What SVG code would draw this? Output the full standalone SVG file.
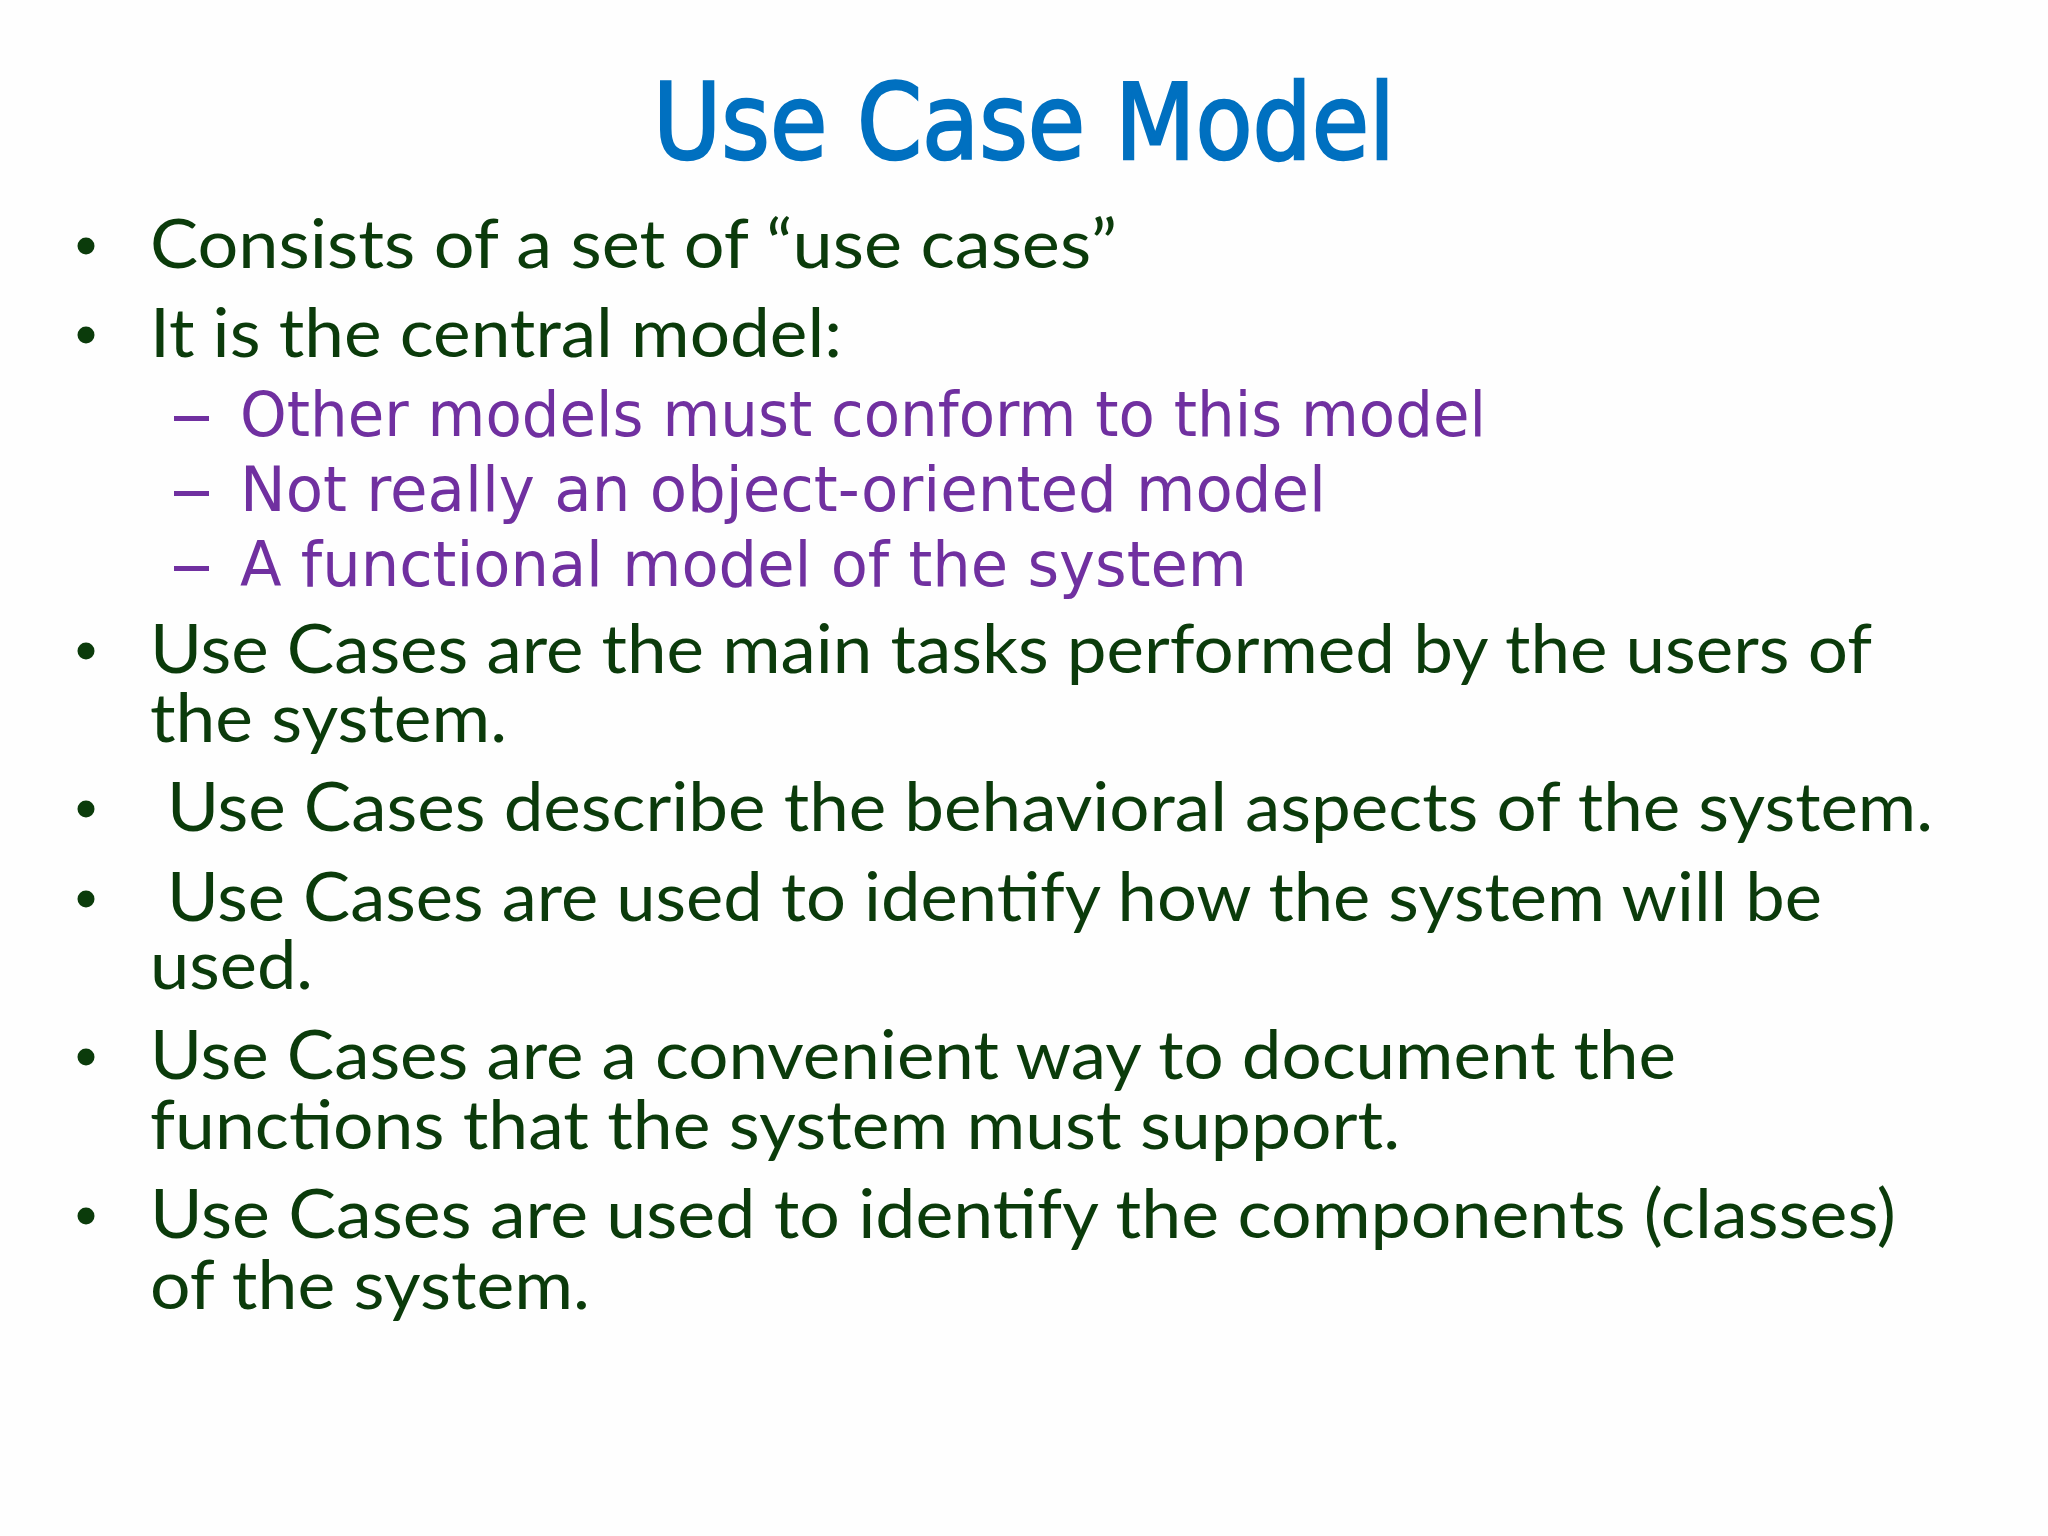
<svg xmlns="http://www.w3.org/2000/svg" width="2048" height="1536" viewBox="0 0 2048 1536">
<style>
.title{font-family:"DejaVu Sans","Liberation Sans",sans-serif;font-size:105px;fill:#0070C0;stroke:#0070C0;stroke-width:2.5px}
.main{font-family:Lato,"Open Sans","Liberation Sans",sans-serif;font-size:68px;fill:#0B3B0B}
.sub{font-family:"DejaVu Sans","Liberation Sans",sans-serif;font-size:62px;fill:#7030A0}
.dot{fill:#0B3B0B}
.dash{fill:#7030A0}
</style>
<rect width="2048" height="1536" fill="#FEFEFE"/>
<g id="title">
<text class="title" x="653" y="159" textLength="742" lengthAdjust="spacingAndGlyphs">Use Case Model</text>
</g>
<g id="bullets">
<circle class="dot" cx="86" cy="246" r="8.5"/>
<text class="main" x="150" y="268" textLength="967" lengthAdjust="spacingAndGlyphs">Consists of a set of “use cases”</text>
<circle class="dot" cx="86" cy="335" r="8.5"/>
<text class="main" x="150" y="357" textLength="692" lengthAdjust="spacingAndGlyphs">It is the central model:</text>
<rect class="dash" x="174" y="416" width="35" height="5"/>
<text class="sub" x="240" y="436" textLength="1246" lengthAdjust="spacingAndGlyphs">Other models must conform to this model</text>
<rect class="dash" x="174" y="491" width="35" height="5"/>
<text class="sub" x="240" y="511" textLength="1086" lengthAdjust="spacingAndGlyphs">Not really an object-oriented model</text>
<rect class="dash" x="174" y="566" width="35" height="5"/>
<text class="sub" x="240" y="586" textLength="1007" lengthAdjust="spacingAndGlyphs">A functional  model of the system</text>
<circle class="dot" cx="86" cy="651" r="8.5"/>
<text class="main" x="150" y="673" textLength="1722" lengthAdjust="spacingAndGlyphs">Use Cases are the main tasks performed by the users of</text>
<text class="main" x="150" y="742" textLength="357" lengthAdjust="spacingAndGlyphs">the system.</text>
<circle class="dot" cx="86" cy="809" r="8.5"/>
<text class="main" x="167" y="831" textLength="1766" lengthAdjust="spacingAndGlyphs">Use Cases describe the behavioral aspects of the system.</text>
<circle class="dot" cx="86" cy="899" r="8.5"/>
<text class="main" x="167" y="921" textLength="1655" lengthAdjust="spacingAndGlyphs">Use Cases are used to identify how the system will be</text>
<text class="main" x="150" y="989" textLength="163" lengthAdjust="spacingAndGlyphs">used.</text>
<circle class="dot" cx="86" cy="1057" r="8.5"/>
<text class="main" x="150" y="1079" textLength="1526" lengthAdjust="spacingAndGlyphs">Use Cases are a convenient way to document the</text>
<text class="main" x="150" y="1149" textLength="1250" lengthAdjust="spacingAndGlyphs">functions that the system must support.</text>
<circle class="dot" cx="86" cy="1216" r="8.5"/>
<text class="main" x="150" y="1238" textLength="1746" lengthAdjust="spacingAndGlyphs">Use Cases are used to identify the components (classes)</text>
<text class="main" x="150" y="1309" textLength="440" lengthAdjust="spacingAndGlyphs">of the system.</text>
</g>
</svg>
